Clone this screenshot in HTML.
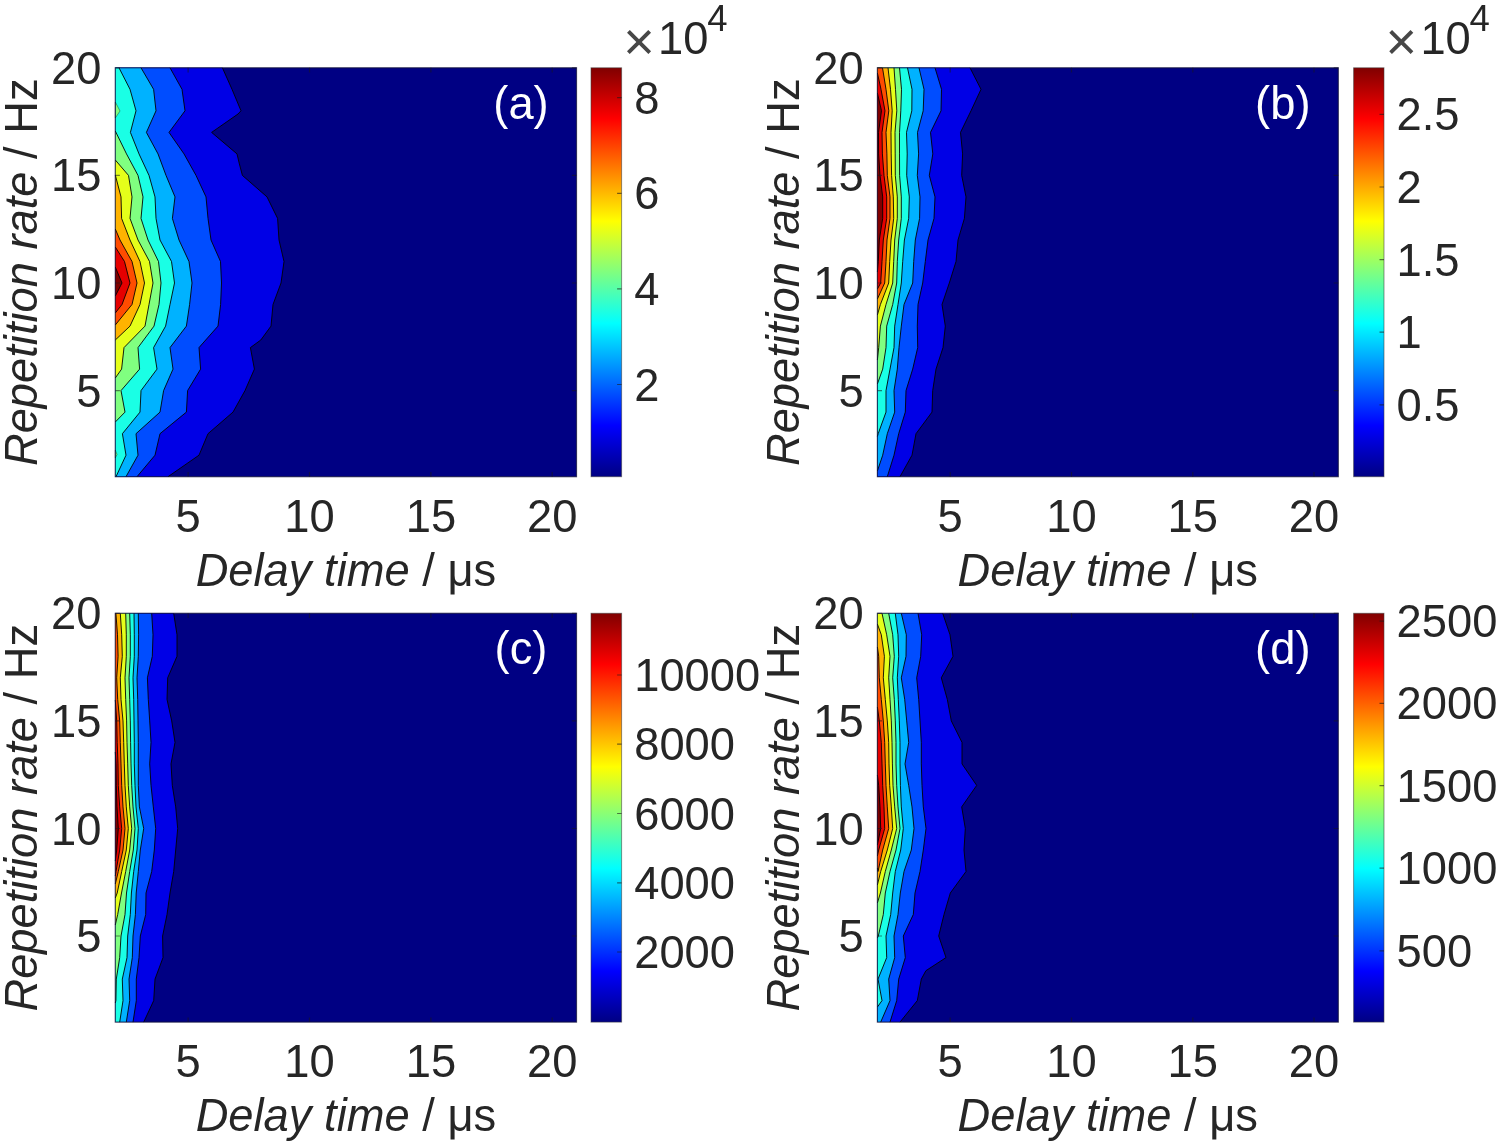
<!DOCTYPE html>
<html lang="en">
<head>
<meta charset="utf-8">
<title>Contour maps: repetition rate vs delay time</title>
<style>
html,body{margin:0;padding:0;background:#fff;}
body{width:1500px;height:1143px;overflow:hidden;}
svg{display:block;}
svg text{font-family:"Liberation Sans", sans-serif;font-size:45.3px;fill:#262626;}
</style>
</head>
<body>
<svg width="1500" height="1143" viewBox="0 0 1500 1143">
<defs><linearGradient id="jet" x1="0" y1="1" x2="0" y2="0"><stop offset="0" stop-color="#000083"/><stop offset="0.125" stop-color="#0000ff"/><stop offset="0.375" stop-color="#00ffff"/><stop offset="0.625" stop-color="#ffff00"/><stop offset="0.875" stop-color="#ff0000"/><stop offset="1" stop-color="#800000"/></linearGradient></defs>
<rect width="1500" height="1143" fill="#fff"/>
<g id="panel-a">
<rect x="115.3" y="67.8" width="461.2" height="408.9" fill="#000083"/>
<polygon points="115.3,67.8 222.4,67.8 232,89.3 241,110.8 238,114 211.6,132.4 237,153.9 239.4,164 242.4,175.4 267,196.9 277.6,218.4 279,240 284,261.5 281,283 273,304.5 271,326.1 260.8,340 250.4,347.6 254.4,369.1 245,390.6 233,412.1 208,433.7 199,455.2 168,476.7 115.3,476.7" fill="#0000e6"/>
<polyline points="222.4,67.8 232,89.3 241,110.8 238,114 211.6,132.4 237,153.9 239.4,164 242.4,175.4 267,196.9 277.6,218.4 279,240 284,261.5 281,283 273,304.5 271,326.1 260.8,340 250.4,347.6 254.4,369.1 245,390.6 233,412.1 208,433.7 199,455.2 168,476.7" fill="none" stroke="#000" stroke-width="1" stroke-opacity="0.88" stroke-linejoin="round"/>
<polygon points="115.3,67.8 170,67.8 182,89.3 185,110.8 169,132.4 184,153.9 196,175.4 206,196.9 208,218.4 211,240 220.5,261.5 221.5,283 220.6,304.5 218,326.1 199,347.6 200.6,369.1 187.6,390.6 186.4,412.1 160,433.7 155,455.2 137,476.7 115.3,476.7" fill="#004dff"/>
<polyline points="170,67.8 182,89.3 185,110.8 169,132.4 184,153.9 196,175.4 206,196.9 208,218.4 211,240 220.5,261.5 221.5,283 220.6,304.5 218,326.1 199,347.6 200.6,369.1 187.6,390.6 186.4,412.1 160,433.7 155,455.2 137,476.7" fill="none" stroke="#000" stroke-width="1" stroke-opacity="0.88" stroke-linejoin="round"/>
<polygon points="115.3,67.8 141,67.8 153.6,89.3 156,110.8 146.4,132.4 158,153.9 166,175.4 175,196.9 172.4,218.4 179,240 189,261.5 192,283 189.6,304.5 186.4,326.1 170,347.6 173,369.1 163.6,390.6 160,412.1 136,433.7 138,455.2 126,476.7 115.3,476.7" fill="#00b2ff"/>
<polyline points="141,67.8 153.6,89.3 156,110.8 146.4,132.4 158,153.9 166,175.4 175,196.9 172.4,218.4 179,240 189,261.5 192,283 189.6,304.5 186.4,326.1 170,347.6 173,369.1 163.6,390.6 160,412.1 136,433.7 138,455.2 126,476.7" fill="none" stroke="#000" stroke-width="1" stroke-opacity="0.88" stroke-linejoin="round"/>
<polygon points="115.3,67.8 119,67.8 130,89.3 136,110.8 130.4,132.4 139,153.9 149,175.4 155,196.9 156,218.4 160,240 171.5,261.5 174.5,283 170,304.5 165.6,326.1 153.6,347.6 157,369.1 141,390.6 140,412.1 122.4,433.7 126,455.2 116,476.7 115.3,476.7" fill="#1affe5"/>
<polyline points="119,67.8 130,89.3 136,110.8 130.4,132.4 139,153.9 149,175.4 155,196.9 156,218.4 160,240 171.5,261.5 174.5,283 170,304.5 165.6,326.1 153.6,347.6 157,369.1 141,390.6 140,412.1 122.4,433.7 126,455.2 116,476.7" fill="none" stroke="#000" stroke-width="1" stroke-opacity="0.88" stroke-linejoin="round"/>
<polygon points="115.3,131 115.3,131 126.5,153.9 138,175.4 143,196.9 141,218.4 148,240 158.5,261.5 161,283 159,304.5 154,326.1 138,347.6 139.6,369.1 121,390.6 125,412.1 115.3,422 115.3,422" fill="#80ff80"/>
<polygon points="115.3,102 120,111 115.3,118" fill="#80ff80" stroke="#000" stroke-width="0.5" stroke-opacity="0.7"/>
<polygon points="115.3,450 117,454.5 115.3,458" fill="#80ff80" stroke="#000" stroke-width="0.5" stroke-opacity="0.7"/>
<polyline points="115.3,131 126.5,153.9 138,175.4 143,196.9 141,218.4 148,240 158.5,261.5 161,283 159,304.5 154,326.1 138,347.6 139.6,369.1 121,390.6 125,412.1 115.3,422" fill="none" stroke="#000" stroke-width="1" stroke-opacity="0.88" stroke-linejoin="round"/>
<polygon points="115.3,160 115.3,160 128.5,175.4 132,196.9 130,218.4 138,240 149.5,261.5 153,283 149,304.5 145,326.1 124,347.6 121.6,369.1 115.3,378 115.3,378" fill="#e5ff1a"/>
<polyline points="115.3,160 128.5,175.4 132,196.9 130,218.4 138,240 149.5,261.5 153,283 149,304.5 145,326.1 124,347.6 121.6,369.1 115.3,378" fill="none" stroke="#000" stroke-width="1" stroke-opacity="0.88" stroke-linejoin="round"/>
<polygon points="115.3,175 115.3,175 121,196.9 121.6,218.4 130,240 140,261.5 144.5,283 140,304.5 130,326.1 115.3,340 115.3,340" fill="#ffb300"/>
<polyline points="115.3,175 121,196.9 121.6,218.4 130,240 140,261.5 144.5,283 140,304.5 130,326.1 115.3,340" fill="none" stroke="#000" stroke-width="1" stroke-opacity="0.88" stroke-linejoin="round"/>
<polygon points="115.3,229 115.3,229 120,240 132,261.5 137,283 132,304.5 115.3,325 115.3,325" fill="#ff4c00"/>
<polyline points="115.3,229 120,240 132,261.5 137,283 132,304.5 115.3,325" fill="none" stroke="#000" stroke-width="1" stroke-opacity="0.88" stroke-linejoin="round"/>
<polygon points="115.3,247 115.3,247 124.5,261.5 130,283 122,304.5 115.3,313 115.3,313" fill="#e50000"/>
<polyline points="115.3,247 124.5,261.5 130,283 122,304.5 115.3,313" fill="none" stroke="#000" stroke-width="1" stroke-opacity="0.88" stroke-linejoin="round"/>
<polygon points="115.3,267 115.3,267 122,283 115.3,296 115.3,296" fill="#800000"/>
<polyline points="115.3,267 122,283 115.3,296" fill="none" stroke="#000" stroke-width="1" stroke-opacity="0.88" stroke-linejoin="round"/>
<path d="M188.1 476.7v-4.6M188.1 67.8v4.6M115.3 390.6h4.6M576.5 390.6h-4.6M309.5 476.7v-4.6M309.5 67.8v4.6M115.3 283h4.6M576.5 283h-4.6M430.9 476.7v-4.6M430.9 67.8v4.6M115.3 175.4h4.6M576.5 175.4h-4.6M552.2 476.7v-4.6M552.2 67.8v4.6M115.3 67.8h4.6M576.5 67.8h-4.6" stroke="#1a1a1a" stroke-width="1.2" opacity="0.55" fill="none"/>
<rect x="115.3" y="67.8" width="461.2" height="408.9" fill="none" stroke="#10103a" stroke-width="1.2" opacity="0.75"/>
<text x="188.1" y="532" text-anchor="middle">5</text>
<text x="101.5" y="406.6" text-anchor="end">5</text>
<text x="309.5" y="532" text-anchor="middle">10</text>
<text x="101.5" y="299" text-anchor="end">10</text>
<text x="430.9" y="532" text-anchor="middle">15</text>
<text x="101.5" y="191.4" text-anchor="end">15</text>
<text x="552.2" y="532" text-anchor="middle">20</text>
<text x="101.5" y="83.8" text-anchor="end">20</text>
<text x="345.9" y="585.7" text-anchor="middle"><tspan font-style="italic">Delay time</tspan> / μs</text>
<text transform="translate(36.9 272.2) rotate(-90)" text-anchor="middle"><tspan font-style="italic">Repetition rate</tspan> / Hz</text>
<text x="521" y="118.8" text-anchor="middle" style="fill:#fff">(a)</text>
</g>
<g id="cb-a">
<rect x="591" y="67.8" width="30.6" height="408.9" fill="url(#jet)" stroke="#3a3a3a" stroke-opacity="0.55" stroke-width="1"/>
<text x="634.2" y="113.7">8</text>
<text x="634.2" y="209.3">6</text>
<text x="634.2" y="304.9">4</text>
<text x="634.2" y="400.5">2</text>
<path d="M621.6 97.7h-4.5M621.6 193.3h-4.5M621.6 288.9h-4.5M621.6 384.5h-4.5" stroke="#1a1a1a" stroke-width="1.2" opacity="0.6" fill="none"/>
<text y="53.8"><tspan x="623.2" dy="6.5" font-size="54" style="fill:#474747">×</tspan><tspan x="658" dy="-6.5">10</tspan><tspan x="707.2" dy="-23" font-size="36.5">4</tspan></text>
</g>
<g id="panel-b">
<rect x="877.4" y="67.8" width="460.9" height="408.9" fill="#000083"/>
<polygon points="877.4,67.8 970,67.8 981,89.3 971,110.8 960.5,132.4 962.6,153.9 961.7,175.4 966,196.9 964.4,218.4 958,240 956,261.5 949.3,283 942,304.5 945.3,326.1 943,347.6 936,369.1 932.7,390.6 932,412.1 916,433.7 912,455.2 900,476.7 877.4,476.7" fill="#0000e6"/>
<polyline points="970,67.8 981,89.3 971,110.8 960.5,132.4 962.6,153.9 961.7,175.4 966,196.9 964.4,218.4 958,240 956,261.5 949.3,283 942,304.5 945.3,326.1 943,347.6 936,369.1 932.7,390.6 932,412.1 916,433.7 912,455.2 900,476.7" fill="none" stroke="#000" stroke-width="1" stroke-opacity="0.88" stroke-linejoin="round"/>
<polygon points="877.4,67.8 935,67.8 941.5,89.3 941,110.8 930.5,132.4 932.8,153.9 929.3,175.4 935,196.9 934,218.4 928,240 925.3,261.5 922.7,283 918,304.5 917.3,326.1 917.7,347.6 912.7,369.1 906,390.6 905.3,412.1 898.7,433.7 894,455.2 887.3,476.7 877.4,476.7" fill="#004dff"/>
<polyline points="935,67.8 941.5,89.3 941,110.8 930.5,132.4 932.8,153.9 929.3,175.4 935,196.9 934,218.4 928,240 925.3,261.5 922.7,283 918,304.5 917.3,326.1 917.7,347.6 912.7,369.1 906,390.6 905.3,412.1 898.7,433.7 894,455.2 887.3,476.7" fill="none" stroke="#000" stroke-width="1" stroke-opacity="0.88" stroke-linejoin="round"/>
<polygon points="877.4,67.8 919,67.8 924,89.3 923.2,110.8 917.5,132.4 918.6,153.9 917.3,175.4 920,196.9 919.6,218.4 915.3,240 913.7,261.5 912.7,283 904,304.5 901.3,326.1 899,347.6 897.3,369.1 894,390.6 894.7,412.1 887.3,433.7 882.7,455.2 877.4,471 877.4,471" fill="#00b2ff"/>
<polyline points="919,67.8 924,89.3 923.2,110.8 917.5,132.4 918.6,153.9 917.3,175.4 920,196.9 919.6,218.4 915.3,240 913.7,261.5 912.7,283 904,304.5 901.3,326.1 899,347.6 897.3,369.1 894,390.6 894.7,412.1 887.3,433.7 882.7,455.2 877.4,471" fill="none" stroke="#000" stroke-width="1" stroke-opacity="0.88" stroke-linejoin="round"/>
<polygon points="877.4,67.8 907.5,67.8 912,89.3 911.8,110.8 906.5,132.4 907.2,153.9 906.7,175.4 909.3,196.9 908.7,218.4 904.4,240 902.7,261.5 901.3,283 898,304.5 894.7,326.1 894,347.6 890,369.1 886,390.6 886,412.1 878.2,433.7 877.4,436.5 877.4,436.5" fill="#1affe5"/>
<polyline points="907.5,67.8 912,89.3 911.8,110.8 906.5,132.4 907.2,153.9 906.7,175.4 909.3,196.9 908.7,218.4 904.4,240 902.7,261.5 901.3,283 898,304.5 894.7,326.1 894,347.6 890,369.1 886,390.6 886,412.1 878.2,433.7 877.4,436.5" fill="none" stroke="#000" stroke-width="1" stroke-opacity="0.88" stroke-linejoin="round"/>
<polygon points="877.4,67.8 899.5,67.8 901.5,89.3 900.8,110.8 899.5,132.4 899.5,153.9 899.6,175.4 901.3,196.9 901.3,218.4 898.7,240 897.3,261.5 896.7,283 892.7,304.5 886.7,326.1 886,347.6 882.7,369.1 877.4,384 877.4,384" fill="#80ff80"/>
<polyline points="899.5,67.8 901.5,89.3 900.8,110.8 899.5,132.4 899.5,153.9 899.6,175.4 901.3,196.9 901.3,218.4 898.7,240 897.3,261.5 896.7,283 892.7,304.5 886.7,326.1 886,347.6 882.7,369.1 877.4,384" fill="none" stroke="#000" stroke-width="1" stroke-opacity="0.88" stroke-linejoin="round"/>
<polygon points="877.4,67.8 894,67.8 895.5,89.3 896.8,110.8 895,132.4 895.2,153.9 895.3,175.4 897.3,196.9 897.3,218.4 894.7,240 893.7,261.5 892.7,283 886,304.5 880.4,326.1 878.7,347.6 877.4,360 877.4,360" fill="#e5ff1a"/>
<polyline points="894,67.8 895.5,89.3 896.8,110.8 895,132.4 895.2,153.9 895.3,175.4 897.3,196.9 897.3,218.4 894.7,240 893.7,261.5 892.7,283 886,304.5 880.4,326.1 878.7,347.6 877.4,360" fill="none" stroke="#000" stroke-width="1" stroke-opacity="0.88" stroke-linejoin="round"/>
<polygon points="877.4,67.8 888,67.8 890.5,89.3 892.2,110.8 891,132.4 891.2,153.9 891.6,175.4 893.3,196.9 893.7,218.4 891,240 889.7,261.5 888.7,283 880.4,304.5 877.4,315 877.4,315" fill="#ffb300"/>
<polyline points="888,67.8 890.5,89.3 892.2,110.8 891,132.4 891.2,153.9 891.6,175.4 893.3,196.9 893.7,218.4 891,240 889.7,261.5 888.7,283 880.4,304.5 877.4,315" fill="none" stroke="#000" stroke-width="1" stroke-opacity="0.88" stroke-linejoin="round"/>
<polygon points="877.4,67.8 882.5,67.8 886,89.3 888.8,110.8 886,132.4 886.9,153.9 887.3,175.4 890,196.9 890,218.4 887,240 886,261.5 884.7,283 877.4,299 877.4,299" fill="#ff4c00"/>
<polyline points="882.5,67.8 886,89.3 888.8,110.8 886,132.4 886.9,153.9 887.3,175.4 890,196.9 890,218.4 887,240 886,261.5 884.7,283 877.4,299" fill="none" stroke="#000" stroke-width="1" stroke-opacity="0.88" stroke-linejoin="round"/>
<polygon points="877.4,73 877.4,73 881,89.3 885,110.8 882,132.4 882.4,153.9 884,175.4 886.7,196.9 886.7,218.4 883.3,240 882,261.5 880.7,283 877.4,289 877.4,289" fill="#e50000"/>
<polyline points="877.4,73 881,89.3 885,110.8 882,132.4 882.4,153.9 884,175.4 886.7,196.9 886.7,218.4 883.3,240 882,261.5 880.7,283 877.4,289" fill="none" stroke="#000" stroke-width="1" stroke-opacity="0.88" stroke-linejoin="round"/>
<polygon points="877.4,93 877.4,93 881.5,110.8 878.5,132.4 878.6,153.9 880,175.4 882.7,196.9 882.7,218.4 879.3,240 878.3,261.5 877.4,272 877.4,272" fill="#800000"/>
<polyline points="877.4,93 881.5,110.8 878.5,132.4 878.6,153.9 880,175.4 882.7,196.9 882.7,218.4 879.3,240 878.3,261.5 877.4,272" fill="none" stroke="#000" stroke-width="1" stroke-opacity="0.88" stroke-linejoin="round"/>
<path d="M950.2 476.7v-4.6M950.2 67.8v4.6M877.4 390.6h4.6M1338.3 390.6h-4.6M1071.5 476.7v-4.6M1071.5 67.8v4.6M877.4 283h4.6M1338.3 283h-4.6M1192.8 476.7v-4.6M1192.8 67.8v4.6M877.4 175.4h4.6M1338.3 175.4h-4.6M1314 476.7v-4.6M1314 67.8v4.6M877.4 67.8h4.6M1338.3 67.8h-4.6" stroke="#1a1a1a" stroke-width="1.2" opacity="0.55" fill="none"/>
<rect x="877.4" y="67.8" width="460.9" height="408.9" fill="none" stroke="#10103a" stroke-width="1.2" opacity="0.75"/>
<text x="950.2" y="532" text-anchor="middle">5</text>
<text x="863.6" y="406.6" text-anchor="end">5</text>
<text x="1071.5" y="532" text-anchor="middle">10</text>
<text x="863.6" y="299" text-anchor="end">10</text>
<text x="1192.8" y="532" text-anchor="middle">15</text>
<text x="863.6" y="191.4" text-anchor="end">15</text>
<text x="1314" y="532" text-anchor="middle">20</text>
<text x="863.6" y="83.8" text-anchor="end">20</text>
<text x="1107.8" y="585.7" text-anchor="middle"><tspan font-style="italic">Delay time</tspan> / μs</text>
<text transform="translate(799 272.2) rotate(-90)" text-anchor="middle"><tspan font-style="italic">Repetition rate</tspan> / Hz</text>
<text x="1282.8" y="118.8" text-anchor="middle" style="fill:#fff">(b)</text>
</g>
<g id="cb-b">
<rect x="1353.6" y="67.8" width="30.4" height="408.9" fill="url(#jet)" stroke="#3a3a3a" stroke-opacity="0.55" stroke-width="1"/>
<text x="1396.6" y="130.4">2.5</text>
<text x="1396.6" y="203">2</text>
<text x="1396.6" y="275.6">1.5</text>
<text x="1396.6" y="348.2">1</text>
<text x="1396.6" y="420.8">0.5</text>
<path d="M1384 114.4h-4.5M1384 187h-4.5M1384 259.6h-4.5M1384 332.2h-4.5M1384 404.8h-4.5" stroke="#1a1a1a" stroke-width="1.2" opacity="0.6" fill="none"/>
<text y="53.8"><tspan x="1385.6" dy="6.5" font-size="54" style="fill:#474747">×</tspan><tspan x="1420.4" dy="-6.5">10</tspan><tspan x="1469.6" dy="-23" font-size="36.5">4</tspan></text>
</g>
<g id="panel-c">
<rect x="115.3" y="613.3" width="461.2" height="408.8" fill="#000083"/>
<polygon points="115.3,613.3 173.7,613.3 177,634.8 177,656.3 167.7,677.8 167,699.4 171.7,720.9 175,742.4 171,763.9 172.3,785.4 175.7,806.9 177.7,828.5 175.7,850 173.7,871.5 170,893 167,914.5 162.6,936 163,957.6 155,979.1 153.7,1000.6 143.7,1022.1 115.3,1022.1" fill="#0000e6"/>
<polyline points="173.7,613.3 177,634.8 177,656.3 167.7,677.8 167,699.4 171.7,720.9 175,742.4 171,763.9 172.3,785.4 175.7,806.9 177.7,828.5 175.7,850 173.7,871.5 170,893 167,914.5 162.6,936 163,957.6 155,979.1 153.7,1000.6 143.7,1022.1" fill="none" stroke="#000" stroke-width="1" stroke-opacity="0.88" stroke-linejoin="round"/>
<polygon points="115.3,613.3 151.7,613.3 153,634.8 152.3,656.3 147.4,677.8 148.3,699.4 149.7,720.9 151,742.4 149.7,763.9 151,785.4 153.3,806.9 155.7,828.5 154.3,850 151.7,871.5 146,893 145.7,914.5 140.3,936 139,957.6 136.3,979.1 136.3,1000.6 133,1022.1 115.3,1022.1" fill="#004dff"/>
<polyline points="151.7,613.3 153,634.8 152.3,656.3 147.4,677.8 148.3,699.4 149.7,720.9 151,742.4 149.7,763.9 151,785.4 153.3,806.9 155.7,828.5 154.3,850 151.7,871.5 146,893 145.7,914.5 140.3,936 139,957.6 136.3,979.1 136.3,1000.6 133,1022.1" fill="none" stroke="#000" stroke-width="1" stroke-opacity="0.88" stroke-linejoin="round"/>
<polygon points="115.3,613.3 138.3,613.3 138.6,634.8 138.3,656.3 137,677.8 137.7,699.4 138,720.9 138.3,742.4 138.3,763.9 138.3,785.4 139.4,806.9 143.7,828.5 140.3,850 138.3,871.5 136.2,893 135.4,914.5 133,936 132.3,957.6 129,979.1 129.7,1000.6 126.3,1022.1 115.3,1022.1" fill="#00b2ff"/>
<polyline points="138.3,613.3 138.6,634.8 138.3,656.3 137,677.8 137.7,699.4 138,720.9 138.3,742.4 138.3,763.9 138.3,785.4 139.4,806.9 143.7,828.5 140.3,850 138.3,871.5 136.2,893 135.4,914.5 133,936 132.3,957.6 129,979.1 129.7,1000.6 126.3,1022.1" fill="none" stroke="#000" stroke-width="1" stroke-opacity="0.88" stroke-linejoin="round"/>
<polygon points="115.3,613.3 134,613.3 134.3,634.8 134.3,656.3 133,677.8 133.7,699.4 134,720.9 134.3,742.4 134.3,763.9 135,785.4 136,806.9 138.3,828.5 137,850 133.7,871.5 131.4,893 130.3,914.5 127.7,936 127,957.6 122.3,979.1 123,1000.6 119.7,1022.1 115.3,1022.1" fill="#1affe5"/>
<polyline points="134,613.3 134.3,634.8 134.3,656.3 133,677.8 133.7,699.4 134,720.9 134.3,742.4 134.3,763.9 135,785.4 136,806.9 138.3,828.5 137,850 133.7,871.5 131.4,893 130.3,914.5 127.7,936 127,957.6 122.3,979.1 123,1000.6 119.7,1022.1" fill="none" stroke="#000" stroke-width="1" stroke-opacity="0.88" stroke-linejoin="round"/>
<polygon points="115.3,613.3 129.7,613.3 130.3,634.8 130.3,656.3 129,677.8 129.7,699.4 130.3,720.9 130.6,742.4 131,763.9 131.7,785.4 133,806.9 135,828.5 133.3,850 129.7,871.5 126.5,893 125,914.5 121,936 119.7,957.6 116.3,979.1 115.9,1000.6 115.3,1003 115.3,1003" fill="#80ff80"/>
<polyline points="129.7,613.3 130.3,634.8 130.3,656.3 129,677.8 129.7,699.4 130.3,720.9 130.6,742.4 131,763.9 131.7,785.4 133,806.9 135,828.5 133.3,850 129.7,871.5 126.5,893 125,914.5 121,936 119.7,957.6 116.3,979.1 115.9,1000.6 115.3,1003" fill="none" stroke="#000" stroke-width="1" stroke-opacity="0.88" stroke-linejoin="round"/>
<polygon points="115.3,613.3 125.7,613.3 126.3,634.8 126.3,656.3 125,677.8 125.7,699.4 126.6,720.9 127,742.4 127.7,763.9 128.3,785.4 129.7,806.9 131.7,828.5 129.7,850 125.7,871.5 121.5,893 117.7,914.5 115.3,925 115.3,925" fill="#e5ff1a"/>
<polyline points="125.7,613.3 126.3,634.8 126.3,656.3 125,677.8 125.7,699.4 126.6,720.9 127,742.4 127.7,763.9 128.3,785.4 129.7,806.9 131.7,828.5 129.7,850 125.7,871.5 121.5,893 117.7,914.5 115.3,925" fill="none" stroke="#000" stroke-width="1" stroke-opacity="0.88" stroke-linejoin="round"/>
<polygon points="115.3,613.3 120.3,613.3 121.7,634.8 122.3,656.3 120.3,677.8 121,699.4 123,720.9 123.7,742.4 124.3,763.9 125,785.4 126.3,806.9 128.3,828.5 126.3,850 121.7,871.5 117.2,893 115.3,898 115.3,898" fill="#ffb300"/>
<polyline points="120.3,613.3 121.7,634.8 122.3,656.3 120.3,677.8 121,699.4 123,720.9 123.7,742.4 124.3,763.9 125,785.4 126.3,806.9 128.3,828.5 126.3,850 121.7,871.5 117.2,893 115.3,898" fill="none" stroke="#000" stroke-width="1" stroke-opacity="0.88" stroke-linejoin="round"/>
<polygon points="115.3,613.3 115.9,613.3 117.5,634.8 118.1,656.3 116.7,677.8 117.7,699.4 119.7,720.9 120.3,742.4 121,763.9 121.7,785.4 123,806.9 125,828.5 123,850 118.3,871.5 115.3,884 115.3,884" fill="#ff4c00"/>
<polyline points="115.9,613.3 117.5,634.8 118.1,656.3 116.7,677.8 117.7,699.4 119.7,720.9 120.3,742.4 121,763.9 121.7,785.4 123,806.9 125,828.5 123,850 118.3,871.5 115.3,884" fill="none" stroke="#000" stroke-width="1" stroke-opacity="0.88" stroke-linejoin="round"/>
<polygon points="115.3,700 115.3,700 116.7,720.9 117.2,742.4 118,763.9 118.3,785.4 119.7,806.9 121.7,828.5 119.7,850 116,871.5 115.3,876 115.3,876" fill="#e50000"/>
<polyline points="115.3,700 116.7,720.9 117.2,742.4 118,763.9 118.3,785.4 119.7,806.9 121.7,828.5 119.7,850 116,871.5 115.3,876" fill="none" stroke="#000" stroke-width="1" stroke-opacity="0.88" stroke-linejoin="round"/>
<polygon points="115.3,752 115.3,752 116,763.9 116.3,785.4 117,806.9 118.3,828.5 116.7,850 115.3,861 115.3,861" fill="#800000"/>
<polyline points="115.3,752 116,763.9 116.3,785.4 117,806.9 118.3,828.5 116.7,850 115.3,861" fill="none" stroke="#000" stroke-width="1" stroke-opacity="0.88" stroke-linejoin="round"/>
<path d="M188.1 1022.1v-4.6M188.1 613.3v4.6M115.3 936h4.6M576.5 936h-4.6M309.5 1022.1v-4.6M309.5 613.3v4.6M115.3 828.5h4.6M576.5 828.5h-4.6M430.9 1022.1v-4.6M430.9 613.3v4.6M115.3 720.9h4.6M576.5 720.9h-4.6M552.2 1022.1v-4.6M552.2 613.3v4.6M115.3 613.3h4.6M576.5 613.3h-4.6" stroke="#1a1a1a" stroke-width="1.2" opacity="0.55" fill="none"/>
<rect x="115.3" y="613.3" width="461.2" height="408.8" fill="none" stroke="#10103a" stroke-width="1.2" opacity="0.75"/>
<text x="188.1" y="1077.4" text-anchor="middle">5</text>
<text x="101.5" y="952" text-anchor="end">5</text>
<text x="309.5" y="1077.4" text-anchor="middle">10</text>
<text x="101.5" y="844.5" text-anchor="end">10</text>
<text x="430.9" y="1077.4" text-anchor="middle">15</text>
<text x="101.5" y="736.9" text-anchor="end">15</text>
<text x="552.2" y="1077.4" text-anchor="middle">20</text>
<text x="101.5" y="629.3" text-anchor="end">20</text>
<text x="345.9" y="1131.1" text-anchor="middle"><tspan font-style="italic">Delay time</tspan> / μs</text>
<text transform="translate(36.9 817.7) rotate(-90)" text-anchor="middle"><tspan font-style="italic">Repetition rate</tspan> / Hz</text>
<text x="521" y="664.3" text-anchor="middle" style="fill:#fff">(c)</text>
</g>
<g id="cb-c">
<rect x="591" y="613.3" width="30.6" height="408.8" fill="url(#jet)" stroke="#3a3a3a" stroke-opacity="0.55" stroke-width="1"/>
<text x="634.2" y="691">10000</text>
<text x="634.2" y="760.2">8000</text>
<text x="634.2" y="829.5">6000</text>
<text x="634.2" y="898.8">4000</text>
<text x="634.2" y="968">2000</text>
<path d="M621.6 675h-4.5M621.6 744.2h-4.5M621.6 813.5h-4.5M621.6 882.8h-4.5M621.6 952h-4.5" stroke="#1a1a1a" stroke-width="1.2" opacity="0.6" fill="none"/>
</g>
<g id="panel-d">
<rect x="877.4" y="613.3" width="460.9" height="408.8" fill="#000083"/>
<polygon points="877.4,613.3 942.7,613.3 950,634.8 953,656.3 941.3,677.8 947.3,699.4 951.3,720.9 962,742.4 962,763.9 976.7,785.4 961.7,806.9 965.3,828.5 964,850 966,871.5 950.3,893 944,914.5 938.7,936 946,957.6 925.9,970.7 921.3,979.1 917.3,1000.6 900,1022.1 877.4,1022.1" fill="#0000e6"/>
<polyline points="942.7,613.3 950,634.8 953,656.3 941.3,677.8 947.3,699.4 951.3,720.9 962,742.4 962,763.9 976.7,785.4 961.7,806.9 965.3,828.5 964,850 966,871.5 950.3,893 944,914.5 938.7,936 946,957.6 925.9,970.7 921.3,979.1 917.3,1000.6 900,1022.1" fill="none" stroke="#000" stroke-width="1" stroke-opacity="0.88" stroke-linejoin="round"/>
<polygon points="877.4,613.3 918,613.3 921.7,634.8 920.7,656.3 916.7,677.8 918.7,699.4 920,720.9 921.3,742.4 921.3,763.9 922,785.4 923.3,806.9 926,828.5 923.3,850 920,871.5 915,893 913.3,914.5 903.3,936 905.3,957.6 898.7,979.1 896.7,1000.6 890,1022.1 877.4,1022.1" fill="#004dff"/>
<polyline points="918,613.3 921.7,634.8 920.7,656.3 916.7,677.8 918.7,699.4 920,720.9 921.3,742.4 921.3,763.9 922,785.4 923.3,806.9 926,828.5 923.3,850 920,871.5 915,893 913.3,914.5 903.3,936 905.3,957.6 898.7,979.1 896.7,1000.6 890,1022.1" fill="none" stroke="#000" stroke-width="1" stroke-opacity="0.88" stroke-linejoin="round"/>
<polygon points="877.4,613.3 901.3,613.3 906.3,634.8 906,656.3 901.3,677.8 904.7,699.4 906.7,720.9 908.7,742.4 905,763.9 908.7,785.4 912,806.9 914,828.5 911.3,850 904,871.5 900.3,893 898,914.5 894,936 894.7,957.6 888.7,979.1 890,1000.6 880.7,1022.1 877.4,1022.1" fill="#00b2ff"/>
<polyline points="901.3,613.3 906.3,634.8 906,656.3 901.3,677.8 904.7,699.4 906.7,720.9 908.7,742.4 905,763.9 908.7,785.4 912,806.9 914,828.5 911.3,850 904,871.5 900.3,893 898,914.5 894,936 894.7,957.6 888.7,979.1 890,1000.6 880.7,1022.1" fill="none" stroke="#000" stroke-width="1" stroke-opacity="0.88" stroke-linejoin="round"/>
<polygon points="877.4,613.3 895.3,613.3 898,634.8 898.7,656.3 897.3,677.8 898.3,699.4 899.3,720.9 900,742.4 900,763.9 900.4,785.4 901.3,806.9 903.3,828.5 900.7,850 895.3,871.5 892.7,893 890.7,914.5 886,936 886.7,957.6 878,979.1 882,1000.6 877.4,1007 877.4,1007" fill="#1affe5"/>
<polyline points="895.3,613.3 898,634.8 898.7,656.3 897.3,677.8 898.3,699.4 899.3,720.9 900,742.4 900,763.9 900.4,785.4 901.3,806.9 903.3,828.5 900.7,850 895.3,871.5 892.7,893 890.7,914.5 886,936 886.7,957.6 878,979.1 882,1000.6 877.4,1007" fill="none" stroke="#000" stroke-width="1" stroke-opacity="0.88" stroke-linejoin="round"/>
<polygon points="877.4,613.3 888.7,613.3 892.7,634.8 894.3,656.3 892.7,677.8 894.3,699.4 895.3,720.9 896,742.4 896,763.9 896.7,785.4 898,806.9 900,828.5 896,850 890,871.5 885.3,893 883.3,914.5 878.3,936 877.4,938 877.4,938" fill="#80ff80"/>
<polyline points="888.7,613.3 892.7,634.8 894.3,656.3 892.7,677.8 894.3,699.4 895.3,720.9 896,742.4 896,763.9 896.7,785.4 898,806.9 900,828.5 896,850 890,871.5 885.3,893 883.3,914.5 878.3,936 877.4,938" fill="none" stroke="#000" stroke-width="1" stroke-opacity="0.88" stroke-linejoin="round"/>
<polygon points="877.4,613.3 882,613.3 886.7,634.8 890,656.3 888.7,677.8 890,699.4 891.3,720.9 892,742.4 892.4,763.9 893,785.4 894.7,806.9 896.7,828.5 891.3,850 885.3,871.5 880.4,893 877.4,903 877.4,903" fill="#e5ff1a"/>
<polyline points="882,613.3 886.7,634.8 890,656.3 888.7,677.8 890,699.4 891.3,720.9 892,742.4 892.4,763.9 893,785.4 894.7,806.9 896.7,828.5 891.3,850 885.3,871.5 880.4,893 877.4,903" fill="none" stroke="#000" stroke-width="1" stroke-opacity="0.88" stroke-linejoin="round"/>
<polygon points="877.4,624 877.4,624 881.3,634.8 884.4,656.3 883.3,677.8 885.3,699.4 887.3,720.9 888.7,742.4 889,763.9 889.7,785.4 891.3,806.9 892.7,828.5 887.3,850 880.7,871.5 877.4,885 877.4,885" fill="#ffb300"/>
<polyline points="877.4,624 881.3,634.8 884.4,656.3 883.3,677.8 885.3,699.4 887.3,720.9 888.7,742.4 889,763.9 889.7,785.4 891.3,806.9 892.7,828.5 887.3,850 880.7,871.5 877.4,885" fill="none" stroke="#000" stroke-width="1" stroke-opacity="0.88" stroke-linejoin="round"/>
<polygon points="877.4,647 877.4,647 878.7,656.3 879.3,677.8 881.3,699.4 883.3,720.9 884.7,742.4 885.3,763.9 886,785.4 887.3,806.9 888.7,828.5 882.7,850 878,871.5 877.4,868 877.4,868" fill="#ff4c00"/>
<polyline points="877.4,647 878.7,656.3 879.3,677.8 881.3,699.4 883.3,720.9 884.7,742.4 885.3,763.9 886,785.4 887.3,806.9 888.7,828.5 882.7,850 878,871.5 877.4,868" fill="none" stroke="#000" stroke-width="1" stroke-opacity="0.88" stroke-linejoin="round"/>
<polygon points="877.4,707 877.4,707 879.3,720.9 881.3,742.4 882,763.9 882.7,785.4 884,806.9 884.7,828.5 878.7,850 877.4,856 877.4,856" fill="#e50000"/>
<polyline points="877.4,707 879.3,720.9 881.3,742.4 882,763.9 882.7,785.4 884,806.9 884.7,828.5 878.7,850 877.4,856" fill="none" stroke="#000" stroke-width="1" stroke-opacity="0.88" stroke-linejoin="round"/>
<polygon points="877.4,775 877.4,775 878.7,785.4 880,806.9 880.7,828.5 877.4,845 877.4,845" fill="#800000"/>
<polyline points="877.4,775 878.7,785.4 880,806.9 880.7,828.5 877.4,845" fill="none" stroke="#000" stroke-width="1" stroke-opacity="0.88" stroke-linejoin="round"/>
<path d="M950.2 1022.1v-4.6M950.2 613.3v4.6M877.4 936h4.6M1338.3 936h-4.6M1071.5 1022.1v-4.6M1071.5 613.3v4.6M877.4 828.5h4.6M1338.3 828.5h-4.6M1192.8 1022.1v-4.6M1192.8 613.3v4.6M877.4 720.9h4.6M1338.3 720.9h-4.6M1314 1022.1v-4.6M1314 613.3v4.6M877.4 613.3h4.6M1338.3 613.3h-4.6" stroke="#1a1a1a" stroke-width="1.2" opacity="0.55" fill="none"/>
<rect x="877.4" y="613.3" width="460.9" height="408.8" fill="none" stroke="#10103a" stroke-width="1.2" opacity="0.75"/>
<text x="950.2" y="1077.4" text-anchor="middle">5</text>
<text x="863.6" y="952" text-anchor="end">5</text>
<text x="1071.5" y="1077.4" text-anchor="middle">10</text>
<text x="863.6" y="844.5" text-anchor="end">10</text>
<text x="1192.8" y="1077.4" text-anchor="middle">15</text>
<text x="863.6" y="736.9" text-anchor="end">15</text>
<text x="1314" y="1077.4" text-anchor="middle">20</text>
<text x="863.6" y="629.3" text-anchor="end">20</text>
<text x="1107.8" y="1131.1" text-anchor="middle"><tspan font-style="italic">Delay time</tspan> / μs</text>
<text transform="translate(799 817.7) rotate(-90)" text-anchor="middle"><tspan font-style="italic">Repetition rate</tspan> / Hz</text>
<text x="1282.8" y="664.3" text-anchor="middle" style="fill:#fff">(d)</text>
</g>
<g id="cb-d">
<rect x="1353.6" y="613.3" width="30.4" height="408.8" fill="url(#jet)" stroke="#3a3a3a" stroke-opacity="0.55" stroke-width="1"/>
<text x="1396.6" y="637.2">2500</text>
<text x="1396.6" y="719.4">2000</text>
<text x="1396.6" y="801.6">1500</text>
<text x="1396.6" y="884.2">1000</text>
<text x="1396.6" y="966.8">500</text>
<path d="M1384 621.2h-4.5M1384 703.4h-4.5M1384 785.6h-4.5M1384 868.2h-4.5M1384 950.8h-4.5" stroke="#1a1a1a" stroke-width="1.2" opacity="0.6" fill="none"/>
</g>
</svg>
</body>
</html>
